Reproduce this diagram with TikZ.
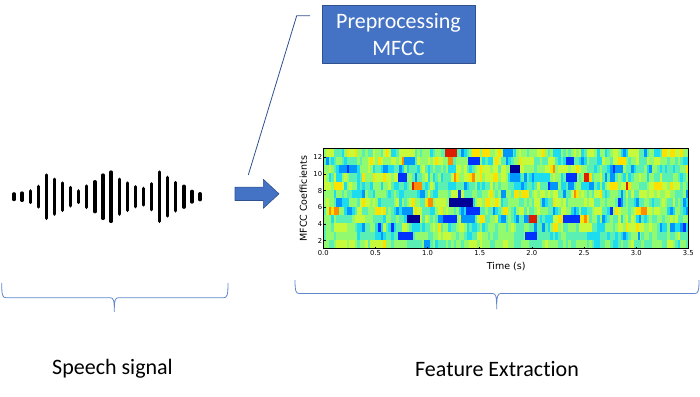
\documentclass[tikz,border=0pt]{standalone}
\usepackage{fontspec}
\setmainfont{Carlito}[Ligatures=NoCommon]
\newfontfamily\plotfont{DejaVu Sans}
\usetikzlibrary{positioning,calc}

\definecolor{officeblue}{HTML}{4472C4}
\definecolor{officeedge}{HTML}{2F528F}
% jet colour map, dark blue to red
\definecolor{jet0}{RGB}{0,0,150}
\definecolor{jet1}{RGB}{0,50,255}
\definecolor{jet2}{RGB}{0,150,255}
\definecolor{jet3}{RGB}{30,220,240}
\definecolor{jet4}{RGB}{90,240,180}
\definecolor{jet5}{RGB}{145,250,110}
\definecolor{jet6}{RGB}{200,250,60}
\definecolor{jet7}{RGB}{255,225,0}
\definecolor{jet8}{RGB}{255,140,0}
\definecolor{jet9}{RGB}{220,30,0}

\tikzset{
diagram/.style={x=1pt,y=-1pt,line join=round},
wavebar/.style={line width=3.3pt,line cap=round,black},
bracket/.style={officeblue!85,line width=0.8pt},
callout/.style={officeedge,line width=0.8pt},
prepbox/.style={rectangle,draw=officeedge,fill=officeblue,text=white,line width=0.8pt,
minimum width=153pt,minimum height=58pt,align=center,
font=\fontsize{22}{26.7}\selectfont},
caption/.style={font=\fontsize{22}{26}\selectfont},
plotframe/.style={draw,line width=0.7pt,inner sep=0pt,minimum width=365pt,minimum height=100pt},
axistick/.style={line width=0.5pt},
ticklabel/.style={font=\plotfont\fontsize{6.8}{7}\selectfont,inner sep=1pt},
axislabel/.style={font=\plotfont\fontsize{9.5}{11}\selectfont,inner sep=0pt}
}

\begin{document}
\begin{tikzpicture}[diagram]
\useasboundingbox (0,0) rectangle (700,396);

% speech waveform
\foreach \h [count=\i from 0] in {9,10.7,15,24,46.7,38.3,30.7,21.7,15,24.7,33.3,46.7,
52.7,38.3,30.7,23.3,20,29.3,52.7,42,31.7,24.3,14,9.3}
  \draw[wavebar] ({14+8.09*\i},{196.7-(\h-3.3)/2}) -- ++(0,{\h-3.3});

% block arrow
\coordinate (tip) at (279,193.8);
\filldraw[fill=officeblue,draw=officeedge,line width=0.6pt]
  (235,187.1) -- (263.3,187.1) -- (263.3,179.3) -- (tip) -- (263.3,208.3)
  -- (263.3,200.5) -- (235,200.5) -- cycle;

% MFCC image
\pgfmathsetseed{11}
\foreach \r in {1,...,12}{
  \xdef\vprev{0}
  \pgfmathsetmacro\spread{\r<3 ? 0.8 : 1.4}
  \foreach \c in {0,...,139}{
    \pgfmathsetmacro\val{0.65*\vprev+0.76*(rand+rand+rand)}
    \xdef\vprev{\val}
    \pgfmathtruncatemacro\idx{max(0,min(9,round(4.5+\spread*\val)))}
    \fill[jet\idx] ({323.3+\c*2.6071},{248.3-(\r-1)*8.333}) rectangle ++(2.65,-8.4);
  }
}
\foreach \ta/\tb/\r/\col in {0.80/0.93/4/jet0,0.72/0.86/2/jet1,1.93/2.05/2/jet1,
1.21/1.44/6/jet0,1.15/1.28/4/jet1,1.32/1.45/4/jet2,2.30/2.46/4/jet1,0.72/0.80/9/jet1,
1.79/1.89/10/jet0,1.79/1.89/9/jet2,2.33/2.43/9/jet1,2.33/2.40/11/jet1,0.77/0.86/5/jet2,
1.37/1.50/5/jet1,1.39/1.50/11/jet1,0.77/0.86/11/jet2,1.72/1.82/12/jet2,1.29/1.32/7/jet1,
1.17/1.28/12/jet9,1.97/2.05/4/jet9,0.85/0.90/8/jet9,2.50/2.55/9/jet9,0.87/0.95/8/jet8,
1.20/1.24/11/jet8,0.97/1.02/1/jet2,3.02/3.04/2/jet2}
  \fill[\col] ({323.3+\ta*104.286},{248.3-(\r-1)*8.333}) rectangle ({323.3+\tb*104.286},{248.3-\r*8.333});

\node[plotframe,anchor=north west] (mfcc) at (323.3,148.3) {};
\foreach \t/\lab in {0/0.0,0.5/0.5,1/1.0,1.5/1.5,2/2.0,2.5/2.5,3/3.0,3.5/3.5}{
  \draw[axistick] ($(mfcc.south west)+(\t*104.286,0)$) coordinate (xt) -- ++(0,-2.5);
  \node[ticklabel,below] at (xt) {\lab};
}
\foreach \n in {2,4,...,12}{
  \draw[axistick] ($(mfcc.south west)+(0,{-(\n-1)*8.333})$) coordinate (yt) -- ++(2.5,0);
  \node[ticklabel,left] at (yt) {\n};
}
\node[axislabel] (tlab) at ($(mfcc.south)+(0,17.7)$) {Time (s)};
\node[axislabel,rotate=90] (clab) at ($(mfcc.west)+(-20,0)$) {MFCC Coefficients};

% callout box
\node[prepbox] (prep) at (398.5,34.2) {Preprocessing\\MFCC};
\coordinate (lead) at (310,15.7);
\coordinate (elbow) at (296.7,15.7);
\coordinate (callend) at (248.3,175);
\draw[callout] (lead) -- (elbow) -- (callend);

% braces
\draw[bracket] (1.7,283) .. controls (1.7,295) and (2.5,297.7) .. (6,297.7) -- (110,297.7)
  .. controls (113.5,297.7) and (114.3,300) .. (114.3,311.7)
  .. controls (114.3,300) and (115.1,297.7) .. (118.6,297.7) -- (223.7,297.7)
  .. controls (227.2,297.7) and (228,295) .. (228,283);
\draw[bracket] (295,280) .. controls (295,291) and (295.8,293.5) .. (299.3,293.5) -- (492.4,293.5)
  .. controls (495.9,293.5) and (496.7,296) .. (496.7,309)
  .. controls (496.7,296) and (497.5,293.5) .. (501,293.5) -- (694.7,293.5)
  .. controls (698.2,293.5) and (699,291) .. (699,280);

\node[caption] (speech) at (112.5,369) {Speech signal};
\node[caption] (feature) at (497,369) {Feature Extraction};

\end{tikzpicture}
\end{document}
